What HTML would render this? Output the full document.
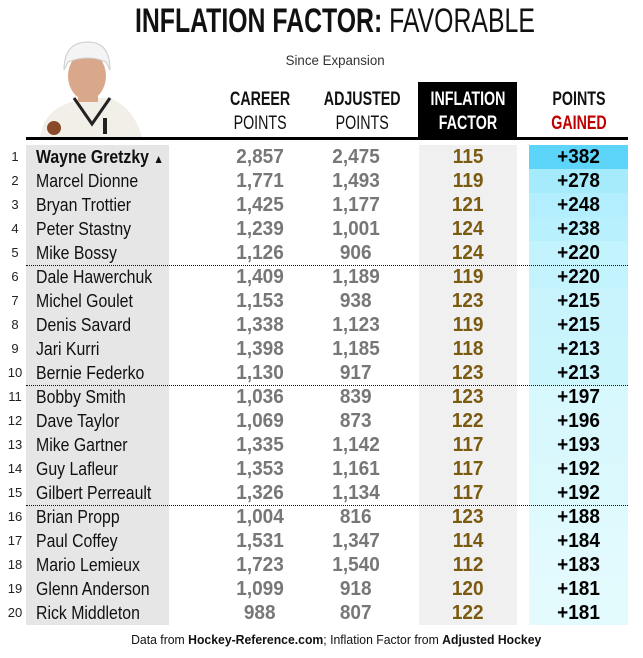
<!DOCTYPE html>
<html><head><meta charset="utf-8"><style>
body{margin:0;background:#fff;width:643px;height:658px;position:relative;overflow:hidden;font-family:"Liberation Sans",sans-serif;}
.a{position:absolute}
.s{display:inline-block;transform:scaleX(0.75);transform-origin:center;white-space:nowrap}
.t{position:absolute;top:0px;left:26px;width:617px;text-align:center;font-size:34px;line-height:42px;font-weight:bold;color:#111}
.h{position:absolute;text-align:center;font-size:19px;line-height:24px;color:#111;white-space:nowrap}
.row{position:absolute;left:0;width:643px;height:24px;font-size:20px;line-height:24px}
.row div{position:absolute;top:0;height:24px;white-space:nowrap}
.n{left:6px;width:18px;text-align:center;font-size:13px;color:#222}
.nm{left:26px;width:143px;background:#e6e6e6;padding-left:10px;box-sizing:border-box;color:#111;font-size:18px}
.row .s{transform:scaleX(0.95)}
.row .nm .s{transform:scaleX(0.88);transform-origin:left}
.c{left:215px;width:90px;text-align:center;color:#777;font-weight:bold}
.d{left:311px;width:90px;text-align:center;color:#777;font-weight:bold}
.f{left:419px;width:98px;text-align:center;background:#f0f0f0;color:#7a5a10;font-weight:bold}
.g{left:529px;width:99px;text-align:center;color:#000;font-weight:bold}
.sep{position:absolute;left:26px;width:602px;border-top:1px dotted #111;z-index:5}
</style></head><body>
<div class="t"><span class="s" style="transform:scaleX(0.73);font-weight:bold">INFLATION FACTOR: <span style="font-weight:normal">FAVORABLE</span></span></div>
<div class="a" style="left:230px;top:52px;width:210px;text-align:center;font-size:14px;color:#333"><span class="s" style="transform:scaleX(0.95)">Since Expansion</span></div>
<svg class="a" style="left:30px;top:40px" width="115" height="100">
<path d="M10 97 Q14 72 36 64 L52 58 L80 58 Q104 68 112 97 Z" fill="#f2efe9"/>
<path d="M44 58 L62 84 L80 58" fill="none" stroke="#222" stroke-width="3"/>
<rect x="73" y="78" width="4" height="16" fill="#222"/>
<circle cx="24" cy="88" r="7" fill="#8a4a2a"/>
<ellipse cx="57" cy="36" rx="19" ry="24" fill="#d9a88a"/>
<path d="M34 30 Q34 2 58 2 Q80 2 80 30 L76 22 Q58 14 38 22 Z" fill="#f4f4f4" stroke="#ccc"/>
<rect x="48" y="54" width="20" height="8" fill="#d9a88a"/>
</svg>
<div class="h" style="left:215px;top:88px;width:90px"><span class="s"><b>CAREER</b><br>POINTS</span></div>
<div class="h" style="left:311px;top:88px;width:90px"><span class="s"><b>ADJUSTED</b><br>POINTS</span></div>
<div class="a" style="left:418px;top:82px;width:99px;height:57px;background:#000"></div>
<div class="h" style="left:418px;top:88px;width:99px;color:#fff;font-weight:bold"><span class="s">INFLATION<br>FACTOR</span></div>
<div class="h" style="left:529px;top:88px;width:99px;font-weight:bold"><span class="s">POINTS<br><span style="color:#c00000">GAINED</span></span></div>
<div class="a" style="left:26px;top:137px;width:602px;height:3px;background:#000"></div>
<div id="rows"></div>
<div class="a" style="left:15px;top:632px;width:643px;text-align:center;font-size:13px;color:#111"><span class="s" style="transform:scaleX(0.94)">Data from <b>Hockey-Reference.com</b>; Inflation Factor from <b>Adjusted Hockey</b></span></div>
<script>
var d=[["Wayne Gretzky","2,857","2,475","115","+382"],["Marcel Dionne","1,771","1,493","119","+278"],["Bryan Trottier","1,425","1,177","121","+248"],["Peter Stastny","1,239","1,001","124","+238"],["Mike Bossy","1,126","906","124","+220"],["Dale Hawerchuk","1,409","1,189","119","+220"],["Michel Goulet","1,153","938","123","+215"],["Denis Savard","1,338","1,123","119","+215"],["Jari Kurri","1,398","1,185","118","+213"],["Bernie Federko","1,130","917","123","+213"],["Bobby Smith","1,036","839","123","+197"],["Dave Taylor","1,069","873","122","+196"],["Mike Gartner","1,335","1,142","117","+193"],["Guy Lafleur","1,353","1,161","117","+192"],["Gilbert Perreault","1,326","1,134","117","+192"],["Brian Propp","1,004","816","123","+188"],["Paul Coffey","1,531","1,347","114","+184"],["Mario Lemieux","1,723","1,540","112","+183"],["Glenn Anderson","1,099","918","120","+181"],["Rick Middleton","988","807","122","+181"]];
var cols=["#5dd5fb","#a6ebfc","#b2eefd","#b8f0fd","#c3f3fd","#c3f3fd","#c9f4fd","#c9f4fd","#cbf5fd","#cbf5fd","#d7f8fd","#d8f8fd","#d9f8fd","#dbf9fd","#dbf9fd","#dffafd","#e1fafd","#e2fafd","#e3fbfd","#e3fbfd"];
var h="";
function s(x){return '<span class="s">'+x+'</span>';}
d.forEach(function(r,i){var y=145+i*24;
h+='<div class="row" style="top:'+y+'px"><div class="n">'+(i+1)+'</div><div class="nm"'+(i==0?' style="font-weight:bold"':'')+'>'+s(r[0]+(i==0?' <span style="font-size:12px">&#9650;</span>':''))+'</div><div class="c">'+s(r[1])+'</div><div class="d">'+s(r[2])+'</div><div class="f">'+s(r[3])+'</div><div class="g" style="background:'+cols[i]+'">'+s(r[4])+'</div></div>';
if(i%5==4&&i<19)h+='<div class="sep" style="top:'+(y+24)+'px"></div>';});
document.getElementById("rows").innerHTML=h;
</script>
</body></html>
